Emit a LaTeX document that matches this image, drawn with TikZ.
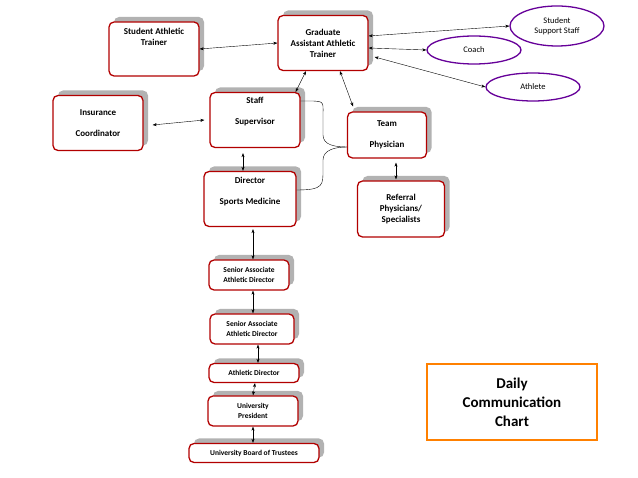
\documentclass[tikz,border=0pt]{standalone}
\usepackage{fontspec}
\setmainfont{Carlito}
\usetikzlibrary{shadows,arrows.meta,shapes.geometric}
\begin{document}
\begin{tikzpicture}[x=1pt,y=-1pt,
 box/.style={draw=red!70!black,line width=1.3pt,fill=white,rounded corners=5pt,align=center,font=\bfseries\fontsize{9}{11}\selectfont,
   general shadow={fill=gray!60,shadow xshift=5pt,shadow yshift=5pt,rounded corners=5pt},inner sep=0pt},
 ell/.style={draw=violet!80!blue,line width=1.3pt,ellipse,fill=white,align=center,font=\fontsize{8.5}{10}\selectfont,inner sep=0pt},
 ar/.style={{Stealth[length=4pt]}-{Stealth[length=4pt]},thin}]
\useasboundingbox (0,0) rectangle (638,478);
\node[box,minimum width=90,minimum height=54] (sat) at (154,49) {Student Athletic\\Trainer\\[14pt]};
\node[box,minimum width=90,minimum height=55] (gat) at (323,43) {Graduate\\Assistant Athletic\\Trainer};
\node[box,minimum width=90,minimum height=55] (ins) at (98,123) {Insurance\\[10pt]Coordinator};
\node[box,minimum width=90,minimum height=55] (ss) at (255,120) {Staff\\[10pt]Supervisor\\[8pt]};
\node[box,minimum width=79,minimum height=46] (tp) at (387,135) {Team\\[10pt]Physician};
\node[box,minimum width=92,minimum height=55] (dsm) at (250,199) {Director\\[10pt]Sports Medicine\\[6pt]};
\node[box,minimum width=87,minimum height=56] (ref) at (401,209) {Referral\\Physicians/\\Specialists};
\node[box,minimum width=80,minimum height=30,font=\bfseries\fontsize{7.5}{9.5}\selectfont] (sad1) at (249,275) {Senior Associate\\Athletic Director};
\node[box,minimum width=84,minimum height=30,font=\bfseries\fontsize{7.5}{9.5}\selectfont] (sad2) at (252,329) {Senior Associate\\Athletic Director};
\node[box,minimum width=90,minimum height=19,font=\bfseries\fontsize{7.5}{9.5}\selectfont] (ad) at (254,373) {Athletic Director};
\node[box,minimum width=90,minimum height=30,font=\bfseries\fontsize{7.5}{9.5}\selectfont] (up) at (253,411) {University\\President};
\node[box,minimum width=130,minimum height=19,font=\bfseries\fontsize{7.5}{9.5}\selectfont] (bt) at (254,453) {University Board of Trustees};
\node[ell,minimum width=94,minimum height=40] (sss) at (557,26) {Student\\Support Staff};
\node[ell,minimum width=94,minimum height=28] (coach) at (474,50) {Coach};
\node[ell,minimum width=94,minimum height=28] (ath) at (533,87) {Athlete};
\node[draw=orange,line width=1.5pt,minimum width=170,minimum height=76,align=center,font=\bfseries\fontsize{15}{19}\selectfont] (dc) at (512,402) {Daily\\Communication\\Chart};
\draw[ar] (sat.east) -- (gat.west);
\draw[ar] ([yshift=7pt]gat.east) -- (sss.west);
\draw[ar] ([yshift=-5pt]gat.east) -- (coach.west);
\draw[ar] ([xshift=6pt,yshift=-14pt]gat.east) -- (ath.west);
\draw[ar] ([xshift=-5pt]ss.east|-ss.north) -- ([xshift=-17pt]gat.south);
\draw[ar] ([xshift=17pt]gat.south) -- ([xshift=-34pt,yshift=5pt]tp.north);
\draw[ar] ([xshift=9pt,yshift=-2pt]ins.east) -- ([xshift=-5pt]ss.west);
\draw[ar] ([xshift=-12pt,yshift=-5pt]ss.south) -- ([xshift=-7pt]dsm.north);
\draw[ar] ([xshift=9pt,yshift=-4pt]tp.south) -- ([xshift=-5pt,yshift=1pt]ref.north);
\draw[ar] ([xshift=3pt,yshift=-2pt]dsm.south) -- ([xshift=4pt]sad1.north);
\draw[ar] ([xshift=4pt]sad1.south) -- ([xshift=1pt]sad2.north);
\draw[ar] ([xshift=6pt]sad2.south) -- ([xshift=4pt]ad.north);
\draw[ar] ([xshift=1pt]ad.south) -- (up.north);
\draw[ar] (up.south) -- ([xshift=-1pt]bt.north);
\coordinate (j) at (tp.west);
\draw[thin] ([yshift=19pt]ss.east) .. controls ([xshift=25pt,yshift=19pt]ss.east) and (323,100) .. (323,115) -- (323,135) .. controls (323,145) and (335,147) .. ([yshift=-12pt]j);
\draw[thin] ([yshift=9pt]dsm.east) .. controls ([xshift=27pt,yshift=9pt]dsm.east) and (323,185) .. (323,170) -- (323,160) .. controls (323,150) and (335,147) .. ([yshift=-12pt]j);
\end{tikzpicture}
\end{document}
